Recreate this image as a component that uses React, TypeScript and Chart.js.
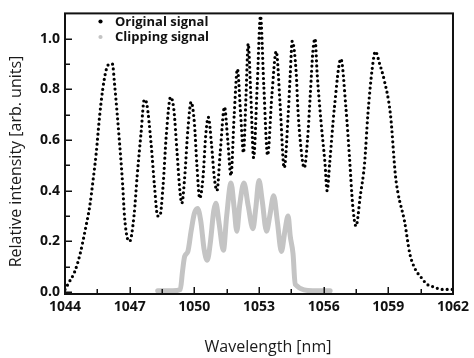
import React, { useEffect, useRef } from "react";
import { Chart, registerables } from "chart.js";

Chart.register(...registerables);

// Original signal (wavelength nm, relative intensity)
const origX = [
  1044.0, 1044.2, 1044.45, 1044.7, 1044.95, 1045.15, 1045.3, 1045.45, 1045.6, 1045.75,
  1045.92, 1046.07, 1046.2, 1046.3, 1046.53, 1046.67, 1046.76, 1046.9, 1047.0, 1047.2,
  1047.35, 1047.53, 1047.68, 1047.8, 1048.0, 1048.15, 1048.3, 1048.4, 1048.55, 1048.7,
  1048.9, 1049.05, 1049.2, 1049.33, 1049.42, 1049.55, 1049.7, 1049.85, 1050.0, 1050.12,
  1050.25, 1050.4, 1050.53, 1050.65, 1050.8, 1050.93, 1051.05, 1051.2, 1051.4, 1051.55,
  1051.7, 1051.85, 1052.0, 1052.15, 1052.28, 1052.4, 1052.5, 1052.62, 1052.75, 1052.92,
  1053.07, 1053.22, 1053.4, 1053.6, 1053.8, 1053.98, 1054.17, 1054.36, 1054.45, 1054.54,
  1054.73, 1054.8, 1054.9, 1055.1, 1055.25, 1055.38, 1055.5, 1055.6, 1055.7, 1055.88,
  1056.06, 1056.16, 1056.28, 1056.5, 1056.8, 1057.03, 1057.2, 1057.35, 1057.5, 1057.7,
  1057.9, 1058.05, 1058.25, 1058.4, 1058.6, 1058.8, 1059.1, 1059.33, 1059.45, 1059.75,
  1060.0, 1060.25, 1060.5, 1060.8, 1061.1, 1061.5, 1062.0,
];
const origY = [
  0.01, 0.04, 0.08, 0.15, 0.25, 0.34, 0.44, 0.55, 0.69, 0.8,
  0.88, 0.9, 0.9, 0.82, 0.59, 0.43, 0.3, 0.21, 0.2, 0.3,
  0.46, 0.63, 0.76, 0.74, 0.58, 0.42, 0.3, 0.3, 0.42, 0.62,
  0.77, 0.72, 0.55, 0.4, 0.35, 0.45, 0.64, 0.75, 0.67, 0.5,
  0.37, 0.45, 0.62, 0.69, 0.58, 0.45, 0.4, 0.55, 0.73, 0.6,
  0.46, 0.7, 0.88, 0.7, 0.55, 0.78, 0.98, 0.78, 0.53, 0.82,
  1.09, 0.82, 0.54, 0.78, 0.95, 0.74, 0.49, 0.71, 0.86, 0.99,
  0.86, 0.73, 0.61, 0.49, 0.6, 0.78, 0.95, 1.0, 0.86, 0.67,
  0.51, 0.4, 0.51, 0.73, 0.92, 0.73, 0.53, 0.34, 0.26, 0.38,
  0.51, 0.7, 0.88, 0.95, 0.9, 0.84, 0.7, 0.46, 0.39, 0.28,
  0.15, 0.09, 0.06, 0.03, 0.02, 0.01, 0.01,
];

// Clipping signal
const clipX = [
  1048.3, 1049.0, 1049.35, 1049.45, 1049.55, 1049.7, 1049.85, 1050.0, 1050.15, 1050.3,
  1050.45, 1050.6, 1050.75, 1050.9, 1051.0, 1051.15, 1051.35, 1051.5, 1051.7, 1051.85,
  1051.97, 1052.1, 1052.3, 1052.5, 1052.72, 1052.85, 1053.0, 1053.15, 1053.35, 1053.5,
  1053.68, 1053.85, 1054.04, 1054.2, 1054.35, 1054.45, 1054.58, 1054.68, 1055.5, 1056.3,
];
const clipY = [
  0.005, 0.005, 0.01, 0.08, 0.14, 0.16, 0.24, 0.31, 0.33, 0.28,
  0.17, 0.125, 0.2, 0.32, 0.35, 0.27, 0.165, 0.3, 0.43, 0.33,
  0.24, 0.34, 0.43, 0.34, 0.25, 0.33, 0.44, 0.36, 0.24, 0.3,
  0.38, 0.28, 0.16, 0.24, 0.3, 0.22, 0.15, 0.03, 0.005, 0.005,
];

const xTicks = [1044, 1047, 1050, 1053, 1056, 1059, 1062];
const xMinorTicks = [1045.5, 1048.5, 1051.5, 1054.5, 1057.5, 1060.5];
const yTicks = [0.0, 0.2, 0.4, 0.6, 0.8, 1.0];
const yMinorTicks = [0.1, 0.3, 0.5, 0.7, 0.9];
const seriesNames = ["Original signal", "Clipping signal"];
const xTitle = "Wavelength [nm]";
const yTitle = "Relative intensity [arb. units]";

const ORIG_COLOR = "#000000";
const CLIP_COLOR = "#c4c4c4";

const decorPlugin = {
  id: "decor",
  afterDraw(chart: any) {
    const { ctx, chartArea: a, scales } = chart;
    const x = scales.x;
    const y = scales.y;
    ctx.save();
    // tick marks (inward)
    ctx.strokeStyle = "#111";
    ctx.lineWidth = 1.5;
    ctx.beginPath();
    for (const v of yTicks) {
      const p = Math.round(y.getPixelForValue(v)) + 0.25;
      ctx.moveTo(a.left, p);
      ctx.lineTo(a.left + 7, p);
    }
    for (const v of yMinorTicks) {
      const p = Math.round(y.getPixelForValue(v)) + 0.25;
      ctx.moveTo(a.left, p);
      ctx.lineTo(a.left + 5, p);
    }
    for (const v of xTicks) {
      const p = Math.round(x.getPixelForValue(v)) + 0.25;
      ctx.moveTo(p, a.bottom);
      ctx.lineTo(p, a.bottom - 7);
    }
    for (const v of xMinorTicks) {
      const p = Math.round(x.getPixelForValue(v)) + 0.25;
      ctx.moveTo(p, a.bottom);
      ctx.lineTo(p, a.bottom - 5);
    }
    ctx.stroke();
    // frame
    ctx.lineWidth = 2;
    ctx.strokeRect(a.left, a.top, a.right - a.left, a.bottom - a.top);

    // axis titles
    ctx.fillStyle = "#1a1a1a";
    ctx.font = '16px "Open Sans"';
    ctx.textAlign = "center";
    ctx.textBaseline = "alphabetic";
    ctx.fillText(xTitle, 268, 351.5);
    ctx.save();
    ctx.translate(20.7, 161.5);
    ctx.rotate(-Math.PI / 2);
    ctx.fillText(yTitle, 0, 0);
    ctx.restore();

    // legend
    const colors = [ORIG_COLOR, CLIP_COLOR];
    const rowsY = [21.5, 37];
    ctx.font = 'bold 13px "Open Sans"';
    ctx.textAlign = "left";
    ctx.textBaseline = "middle";
    seriesNames.forEach((name, i) => {
      ctx.fillStyle = colors[i];
      ctx.beginPath();
      ctx.arc(100.5, rowsY[i], 2.1, 0, Math.PI * 2);
      ctx.fill();
      ctx.fillStyle = "#111";
      ctx.fillText(name, 115, rowsY[i] + 0.5);
    });
    ctx.restore();
  },
};

export default function App() {
  const ref = useRef<HTMLCanvasElement | null>(null);

  useEffect(() => {
    document.body.style.margin = "0";
    const canvas = ref.current;
    if (!canvas) return;
    const tickFont = { family: "Open Sans", size: 14, weight: "bold" as const };
    const chart = new Chart(canvas, {
      type: "line",
      data: {
        datasets: [
          {
            label: seriesNames[1],
            data: clipX.map((v, i) => ({ x: v, y: clipY[i] })),
            borderColor: CLIP_COLOR,
            backgroundColor: CLIP_COLOR,
            borderWidth: 5,
            borderCapStyle: "round",
            borderJoinStyle: "round",
            cubicInterpolationMode: "monotone",
            pointRadius: 0,
            fill: false,
          },
          {
            label: seriesNames[0],
            data: origX.map((v, i) => ({ x: v, y: origY[i] })),
            borderColor: ORIG_COLOR,
            backgroundColor: ORIG_COLOR,
            borderWidth: 3.2,
            borderDash: [0, 5],
            borderCapStyle: "round",
            borderJoinStyle: "round",
            cubicInterpolationMode: "monotone",
            pointRadius: 0,
            fill: false,
          },
        ],
      },
      options: {
        animation: false,
        responsive: false,
        devicePixelRatio: 1,
        layout: { padding: { top: 4, right: 18, left: 0, bottom: 0 } },
        plugins: {
          legend: { display: false },
          tooltip: { enabled: false },
          title: { display: false },
        },
        scales: {
          x: {
            type: "linear",
            min: 1044,
            max: 1062,
            grid: { display: false, drawTicks: false },
            border: { display: false },
            afterBuildTicks: (s: any) => {
              s.ticks = xTicks.map((v) => ({ value: v }));
            },
            afterFit: (s: any) => {
              s.height = 64;
            },
            ticks: {
              autoSkip: false,
              maxRotation: 0,
              padding: 5,
              color: "#111",
              font: tickFont,
              callback: (v: any) => String(v),
            },
          },
          y: {
            type: "linear",
            min: -0.008,
            max: 1.1,
            grid: { display: false, drawTicks: false },
            border: { display: false },
            afterBuildTicks: (s: any) => {
              s.ticks = yTicks.map((v) => ({ value: v }));
            },
            afterFit: (s: any) => {
              s.width = 65;
            },
            ticks: {
              autoSkip: false,
              padding: 5,
              color: "#111",
              font: tickFont,
              callback: (v: any) => Number(v).toFixed(1),
            },
          },
        },
      },
      plugins: [decorPlugin],
    } as any);
    return () => chart.destroy();
  }, []);

  return (
    <div style={{ position: "absolute", left: 0, top: 0, width: 474, height: 358 }}>
      <canvas ref={ref} width={474} height={358} style={{ display: "block" }} />
    </div>
  );
}
